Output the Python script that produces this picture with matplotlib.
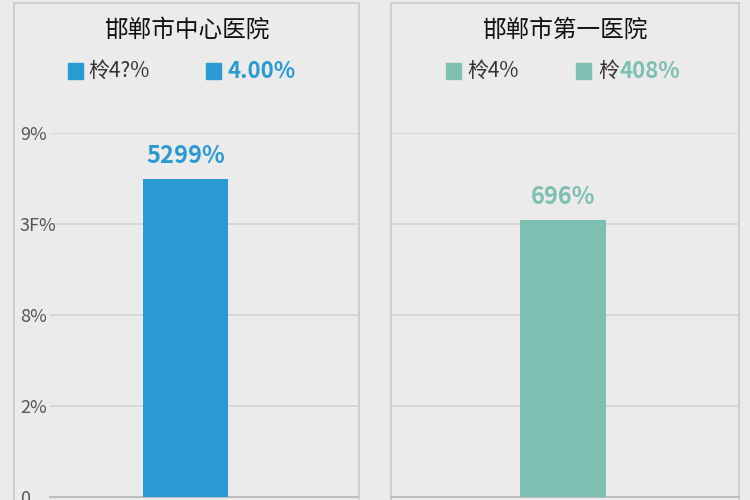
import matplotlib
matplotlib.use("Agg")
import matplotlib.pyplot as plt
from matplotlib.patches import Rectangle

plt.rcParams["font.family"] = ["Noto Sans CJK SC", "DejaVu Sans"]

# data
titles = ["邯郸市中心医院", "邯郸市第一医院"]
values = [6.98, 6.08]
value_labels = ["5299%", "696%"]
ticks = [0, 2, 4, 6, 8]
tick_labels = ["0", "2%", "8%", "3F%", "9%"]
legend_a = ["柃4?%", "柃4%"]
legend_b_plain = ["", "柃"]
legend_b_bold = ["4.00%", "408%"]
colors = ["#2A9BD2", "#7DC0B2"]

BG = "#EBEBEB"
W, H = 750, 500
fig = plt.figure(figsize=(7.5, 5), dpi=100, facecolor=BG)

def fx(px): return px / W
def fy(py): return 1 - py / H

# panel geometry in pixels: frame box, plot area, bar center fraction, bar px width
panels = [
    dict(frame=(14, 3, 359, 505), plot=(50, 133, 358, 497), center=0.440, bw=85, ylab=True),
    dict(frame=(391, 3, 739, 505), plot=(391, 133, 739, 497), center=0.494, bw=86, ylab=False),
]

for i, p in enumerate(panels):
    x0, y0, x1, y1 = p["frame"]
    fig.patches.append(Rectangle((fx(x0), fy(y1)), fx(x1 - x0), (y1 - y0) / H,
                                 transform=fig.transFigure, facecolor="none",
                                 edgecolor="#C9C9C9", lw=1.2, zorder=-1))
    px0, py0, px1, py1 = p["plot"]
    ax = fig.add_axes([fx(px0), fy(py1), fx(px1 - px0), (py1 - py0) / H])
    ax.set_facecolor("none")
    bw = 0.6
    span = (px1 - px0) / (p["bw"] / bw)
    ax.set_xlim(-p["center"] * span, (1 - p["center"]) * span)
    ax.set_ylim(0, 8)
    ax.bar([0], [values[i]], width=bw, color=colors[i], zorder=3)
    ax.text(0, values[i] + 0.25, value_labels[i], ha="center", va="bottom",
            fontsize=17, fontweight="bold", color=colors[i], zorder=4)
    ax.set_yticks(ticks)
    ax.yaxis.grid(True, color="#D2D2D2", lw=1.2)
    ax.set_axisbelow(True)
    ax.set_xticks([])
    for s in ["top", "right", "left"]:
        ax.spines[s].set_visible(False)
    ax.spines["bottom"].set_color("#BDBDBD")
    ax.spines["bottom"].set_linewidth(1.5)
    ax.tick_params(axis="y", length=0, pad=0)
    if p["ylab"]:
        ax.set_yticklabels(tick_labels, fontsize=13, color="#555555")
        for lab in ax.get_yticklabels():
            lab.set_horizontalalignment("left")
            lab.set_x(-30 / (px1 - px0))
    else:
        ax.set_yticklabels([])

    # panel title
    cx = (x0 + x1) / 2
    fig.text(fx(cx), fy(30), titles[i], ha="center", va="center", fontsize=17, color="#111111")

# legend rows: square 1, text 1, square 2, text 2 (x in px)
lx = [(68, 88, 206, 228), (446, 467, 576, 598)]
for i, (s1, t1, s2, t2) in enumerate(lx):
    for sx in (s1, s2):
        fig.patches.append(Rectangle((fx(sx), fy(79)), fx(15), 16 / H,
                                     transform=fig.transFigure, color=colors[i]))
    fig.text(fx(t1), fy(71), legend_a[i], ha="left", va="center", fontsize=15, color="#333333")
    fig.text(fx(t2), fy(71), legend_b_plain[i], ha="left", va="center", fontsize=15, color="#333333")
    off = 0 if not legend_b_plain[i] else 21
    fig.text(fx(t2 + off), fy(71), legend_b_bold[i], ha="left", va="center",
             fontsize=16, fontweight="bold", color=colors[i])

fig.savefig("out.png", dpi=100, facecolor=BG)
